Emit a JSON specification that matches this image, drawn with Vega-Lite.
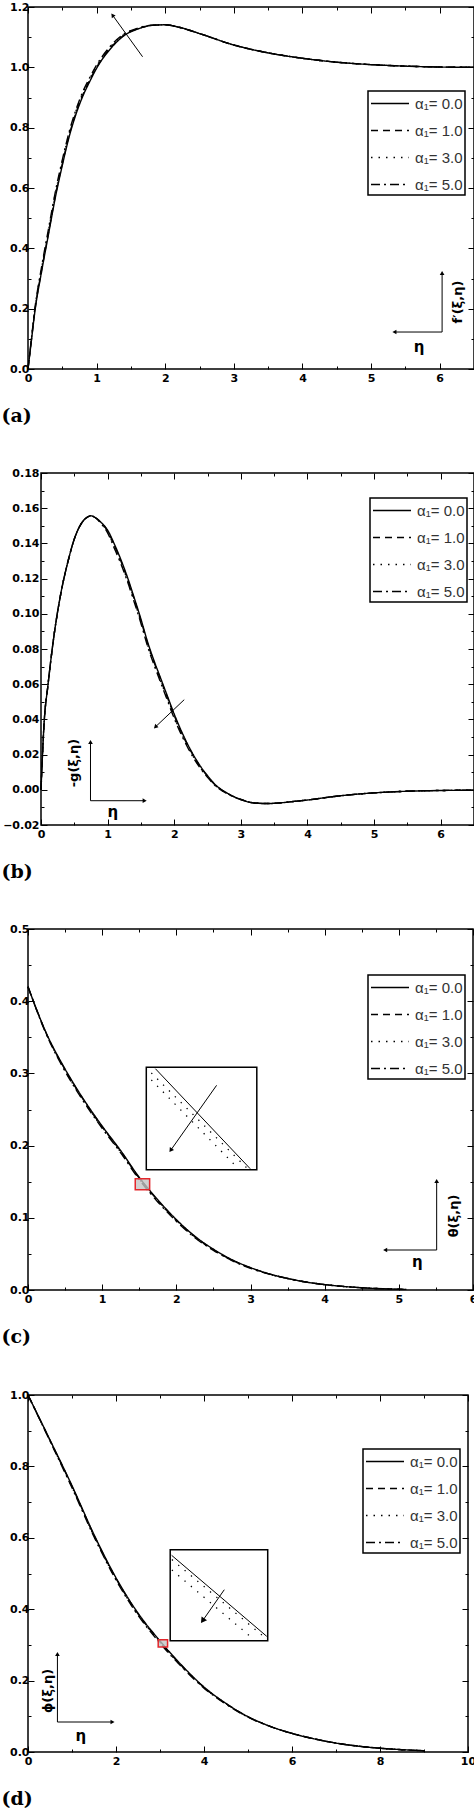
{
  "$schema": "https://vega.github.io/schema/vega-lite/v6.json",
  "padding": {"left": 0, "top": 0, "right": 0, "bottom": 0},
  "background": "white",
  "columns": 1,
  "align": {"row": "each", "column": "none"},
  "spacing": 41,
  "resolve": {"scale": {"strokeDash": "independent"}, "legend": {"strokeDash": "independent"}},
  "datasets": {
    "A": [
      {"eta": 0, "a0": 0, "a1": 0, "a3": 0, "a5": 0},
      {"eta": 0.05, "a0": 0.095, "a1": 0.097, "a3": 0.099, "a5": 0.101},
      {"eta": 0.1, "a0": 0.19, "a1": 0.193, "a3": 0.197, "a5": 0.2},
      {"eta": 0.2, "a0": 0.325, "a1": 0.33, "a3": 0.336, "a5": 0.341},
      {"eta": 0.3, "a0": 0.448, "a1": 0.453, "a3": 0.46, "a5": 0.466},
      {"eta": 0.4, "a0": 0.57, "a1": 0.576, "a3": 0.583, "a5": 0.589},
      {"eta": 0.5, "a0": 0.675, "a1": 0.68, "a3": 0.687, "a5": 0.693},
      {"eta": 0.6, "a0": 0.77, "a1": 0.775, "a3": 0.781, "a5": 0.786},
      {"eta": 0.7, "a0": 0.845, "a1": 0.85, "a3": 0.855, "a5": 0.86},
      {"eta": 0.8, "a0": 0.905, "a1": 0.91, "a3": 0.915, "a5": 0.92},
      {"eta": 0.9, "a0": 0.953, "a1": 0.958, "a3": 0.962, "a5": 0.966},
      {"eta": 1.0, "a0": 0.997, "a1": 1.0, "a3": 1.004, "a5": 1.008},
      {"eta": 1.2, "a0": 1.061, "a1": 1.064, "a3": 1.067, "a5": 1.07},
      {"eta": 1.4, "a0": 1.105, "a1": 1.107, "a3": 1.109, "a5": 1.111},
      {"eta": 1.6, "a0": 1.127, "a1": 1.128, "a3": 1.129, "a5": 1.13},
      {"eta": 1.8, "a0": 1.139, "a1": 1.139, "a3": 1.139, "a5": 1.14},
      {"eta": 2.0, "a0": 1.141, "a1": 1.141, "a3": 1.141, "a5": 1.141},
      {"eta": 2.2, "a0": 1.133, "a1": 1.133, "a3": 1.133, "a5": 1.133},
      {"eta": 2.5, "a0": 1.112, "a1": 1.112, "a3": 1.112, "a5": 1.112},
      {"eta": 3.0, "a0": 1.074, "a1": 1.074, "a3": 1.074, "a5": 1.074},
      {"eta": 3.5, "a0": 1.048, "a1": 1.048, "a3": 1.048, "a5": 1.048},
      {"eta": 4.0, "a0": 1.03, "a1": 1.03, "a3": 1.03, "a5": 1.03},
      {"eta": 4.5, "a0": 1.017, "a1": 1.017, "a3": 1.017, "a5": 1.017},
      {"eta": 5.0, "a0": 1.009, "a1": 1.009, "a3": 1.009, "a5": 1.009},
      {"eta": 5.5, "a0": 1.004, "a1": 1.004, "a3": 1.004, "a5": 1.004},
      {"eta": 6.0, "a0": 1.001, "a1": 1.001, "a3": 1.001, "a5": 1.001},
      {"eta": 6.5, "a0": 1.0, "a1": 1.0, "a3": 1.0, "a5": 1.0}
    ],
    "B": [
      {"eta": 0, "a0": 0, "a1": 0, "a3": 0, "a5": 0},
      {"eta": 0.05, "a0": 0.04, "a1": 0.04, "a3": 0.04, "a5": 0.04},
      {"eta": 0.1, "a0": 0.058, "a1": 0.058, "a3": 0.058, "a5": 0.058},
      {"eta": 0.2, "a0": 0.089, "a1": 0.089, "a3": 0.089, "a5": 0.089},
      {"eta": 0.3, "a0": 0.112, "a1": 0.112, "a3": 0.112, "a5": 0.112},
      {"eta": 0.4, "a0": 0.129, "a1": 0.129, "a3": 0.129, "a5": 0.129},
      {"eta": 0.5, "a0": 0.1425, "a1": 0.1425, "a3": 0.1425, "a5": 0.1425},
      {"eta": 0.6, "a0": 0.151, "a1": 0.151, "a3": 0.151, "a5": 0.151},
      {"eta": 0.7, "a0": 0.155, "a1": 0.155, "a3": 0.155, "a5": 0.155},
      {"eta": 0.75, "a0": 0.1557, "a1": 0.1557, "a3": 0.1557, "a5": 0.1557},
      {"eta": 0.8, "a0": 0.155, "a1": 0.155, "a3": 0.155, "a5": 0.155},
      {"eta": 0.9, "a0": 0.152, "a1": 0.1518, "a3": 0.1516, "a5": 0.1514},
      {"eta": 1.0, "a0": 0.1475, "a1": 0.147, "a3": 0.1465, "a5": 0.146},
      {"eta": 1.1, "a0": 0.1397, "a1": 0.1389, "a3": 0.1381, "a5": 0.1373},
      {"eta": 1.2, "a0": 0.1307, "a1": 0.1299, "a3": 0.1291, "a5": 0.1283},
      {"eta": 1.3, "a0": 0.1205, "a1": 0.1197, "a3": 0.1189, "a5": 0.1181},
      {"eta": 1.4, "a0": 0.109, "a1": 0.1082, "a3": 0.1074, "a5": 0.1066},
      {"eta": 1.5, "a0": 0.097, "a1": 0.0962, "a3": 0.0954, "a5": 0.0946},
      {"eta": 1.6, "a0": 0.084, "a1": 0.0832, "a3": 0.0824, "a5": 0.0816},
      {"eta": 1.7, "a0": 0.073, "a1": 0.0722, "a3": 0.0714, "a5": 0.0706},
      {"eta": 1.8, "a0": 0.063, "a1": 0.0622, "a3": 0.0614, "a5": 0.0606},
      {"eta": 1.9, "a0": 0.053, "a1": 0.0522, "a3": 0.0514, "a5": 0.0506},
      {"eta": 2.0, "a0": 0.043, "a1": 0.0422, "a3": 0.0414, "a5": 0.0406},
      {"eta": 2.1, "a0": 0.034, "a1": 0.0333, "a3": 0.0326, "a5": 0.0319},
      {"eta": 2.2, "a0": 0.026, "a1": 0.0254, "a3": 0.0248, "a5": 0.0242},
      {"eta": 2.3, "a0": 0.019, "a1": 0.0185, "a3": 0.018, "a5": 0.0175},
      {"eta": 2.4, "a0": 0.013, "a1": 0.0126, "a3": 0.0122, "a5": 0.0118},
      {"eta": 2.5, "a0": 0.008, "a1": 0.0077, "a3": 0.0074, "a5": 0.0071},
      {"eta": 2.6, "a0": 0.0035, "a1": 0.0033, "a3": 0.0031, "a5": 0.0029},
      {"eta": 2.8, "a0": -0.002, "a1": -0.0021, "a3": -0.0022, "a5": -0.0023},
      {"eta": 3.0, "a0": -0.0055, "a1": -0.0055, "a3": -0.0055, "a5": -0.0055},
      {"eta": 3.2, "a0": -0.0075, "a1": -0.0075, "a3": -0.0075, "a5": -0.0075},
      {"eta": 3.4, "a0": -0.0078, "a1": -0.0078, "a3": -0.0078, "a5": -0.0078},
      {"eta": 3.6, "a0": -0.0074, "a1": -0.0074, "a3": -0.0074, "a5": -0.0074},
      {"eta": 3.8, "a0": -0.0066, "a1": -0.0066, "a3": -0.0066, "a5": -0.0066},
      {"eta": 4.0, "a0": -0.0058, "a1": -0.0058, "a3": -0.0058, "a5": -0.0058},
      {"eta": 4.4, "a0": -0.0038, "a1": -0.0038, "a3": -0.0038, "a5": -0.0038},
      {"eta": 4.8, "a0": -0.0023, "a1": -0.0023, "a3": -0.0023, "a5": -0.0023},
      {"eta": 5.2, "a0": -0.0013, "a1": -0.0013, "a3": -0.0013, "a5": -0.0013},
      {"eta": 5.6, "a0": -0.0007, "a1": -0.0007, "a3": -0.0007, "a5": -0.0007},
      {"eta": 6.0, "a0": -0.0004, "a1": -0.0004, "a3": -0.0004, "a5": -0.0004},
      {"eta": 6.5, "a0": -0.0002, "a1": -0.0002, "a3": -0.0002, "a5": -0.0002}
    ],
    "C": [
      {"eta": 0, "a0": 0.42, "a1": 0.42, "a3": 0.42, "a5": 0.42},
      {"eta": 0.25, "a0": 0.355, "a1": 0.3545, "a3": 0.354, "a5": 0.3535},
      {"eta": 0.5, "a0": 0.306, "a1": 0.305, "a3": 0.304, "a5": 0.303},
      {"eta": 0.75, "a0": 0.264, "a1": 0.263, "a3": 0.262, "a5": 0.261},
      {"eta": 1.0, "a0": 0.227, "a1": 0.226, "a3": 0.225, "a5": 0.224},
      {"eta": 1.25, "a0": 0.193, "a1": 0.192, "a3": 0.191, "a5": 0.19},
      {"eta": 1.5, "a0": 0.156, "a1": 0.155, "a3": 0.154, "a5": 0.153},
      {"eta": 1.75, "a0": 0.125, "a1": 0.124, "a3": 0.123, "a5": 0.122},
      {"eta": 2.0, "a0": 0.0975, "a1": 0.0967, "a3": 0.0959, "a5": 0.0951},
      {"eta": 2.25, "a0": 0.0745, "a1": 0.0738, "a3": 0.0731, "a5": 0.0724},
      {"eta": 2.5, "a0": 0.0565, "a1": 0.056, "a3": 0.0555, "a5": 0.055},
      {"eta": 2.75, "a0": 0.042, "a1": 0.0416, "a3": 0.0412, "a5": 0.0408},
      {"eta": 3.0, "a0": 0.031, "a1": 0.0307, "a3": 0.0304, "a5": 0.0301},
      {"eta": 3.25, "a0": 0.0225, "a1": 0.0223, "a3": 0.0221, "a5": 0.0219},
      {"eta": 3.5, "a0": 0.016, "a1": 0.016, "a3": 0.016, "a5": 0.016},
      {"eta": 3.75, "a0": 0.011, "a1": 0.011, "a3": 0.011, "a5": 0.011},
      {"eta": 4.0, "a0": 0.0075, "a1": 0.0075, "a3": 0.0075, "a5": 0.0075},
      {"eta": 4.5, "a0": 0.0031, "a1": 0.0031, "a3": 0.0031, "a5": 0.0031},
      {"eta": 5.1, "a0": 0.0008, "a1": 0.0008, "a3": 0.0008, "a5": 0.0008}
    ],
    "D": [
      {"eta": 0, "a0": 1.0, "a1": 1.0, "a3": 1.0, "a5": 1.0},
      {"eta": 0.5, "a0": 0.874, "a1": 0.873, "a3": 0.872, "a5": 0.871},
      {"eta": 1.0, "a0": 0.746, "a1": 0.744, "a3": 0.742, "a5": 0.74},
      {"eta": 1.5, "a0": 0.609, "a1": 0.607, "a3": 0.605, "a5": 0.603},
      {"eta": 2.0, "a0": 0.488, "a1": 0.486, "a3": 0.484, "a5": 0.482},
      {"eta": 2.5, "a0": 0.389, "a1": 0.387, "a3": 0.385, "a5": 0.383},
      {"eta": 3.0, "a0": 0.311, "a1": 0.309, "a3": 0.307, "a5": 0.305},
      {"eta": 3.5, "a0": 0.242, "a1": 0.2405, "a3": 0.239, "a5": 0.2375},
      {"eta": 4.0, "a0": 0.182, "a1": 0.181, "a3": 0.18, "a5": 0.179},
      {"eta": 4.5, "a0": 0.136, "a1": 0.1353, "a3": 0.1346, "a5": 0.1339},
      {"eta": 5.0, "a0": 0.099, "a1": 0.0985, "a3": 0.098, "a5": 0.0975},
      {"eta": 5.5, "a0": 0.072, "a1": 0.072, "a3": 0.072, "a5": 0.072},
      {"eta": 6.0, "a0": 0.052, "a1": 0.052, "a3": 0.052, "a5": 0.052},
      {"eta": 6.5, "a0": 0.037, "a1": 0.037, "a3": 0.037, "a5": 0.037},
      {"eta": 7.0, "a0": 0.025, "a1": 0.025, "a3": 0.025, "a5": 0.025},
      {"eta": 7.5, "a0": 0.0165, "a1": 0.0165, "a3": 0.0165, "a5": 0.0165},
      {"eta": 8.0, "a0": 0.0105, "a1": 0.0105, "a3": 0.0105, "a5": 0.0105},
      {"eta": 8.5, "a0": 0.0065, "a1": 0.0065, "a3": 0.0065, "a5": 0.0065},
      {"eta": 9.0, "a0": 0.0036, "a1": 0.0036, "a3": 0.0036, "a5": 0.0036}
    ]
  },
  "concat": [
    {
      "width": 446, "height": 362,
      "resolve": {"axis": {"x": "independent", "y": "independent"}},
      "layer": [
        {
          "data": {"name": "A"},
          "transform": [{"fold": ["a0", "a1", "a3", "a5"], "as": ["alpha", "val"]}],
          "mark": {"type": "line", "color": "black", "strokeWidth": 1.4, "interpolate": "monotone"},
          "encoding": {
            "x": {"field": "eta", "type": "quantitative", "scale": {"domain": [0, 6.5], "nice": false},
              "axis": {"orient": "bottom", "values": [0, 1, 2, 3, 4, 5, 6], "format": "d", "tickSize": -6, "labelPadding": 9, "title": "(a)", "titleX": -27, "titleY": 46}},
            "y": {"field": "val", "type": "quantitative", "scale": {"domain": [0, 1.2], "nice": false},
              "axis": {"orient": "left", "values": [0, 0.2, 0.4, 0.6, 0.8, 1.0, 1.2], "format": ".1f", "tickSize": -6, "labelPadding": 5, "minExtent": 27, "maxExtent": 27, "title": null}},
            "strokeDash": {"field": "alpha", "type": "nominal",
              "scale": {"domain": ["a0", "a1", "a3", "a5"], "range": [[1, 0], [7, 5], [1.5, 6], [9, 4, 2, 4]]},
              "legend": {"title": null, "orient": "none", "legendX": 340, "legendY": 84,
                "labelExpr": "datum.label == 'a0' ? 'α₁= 0.0' : datum.label == 'a1' ? 'α₁= 1.0' : datum.label == 'a3' ? 'α₁= 3.0' : 'α₁= 5.0'",
                "symbolType": "M-1,0H3", "symbolSize": 361, "symbolStrokeWidth": 1.5, "symbolStrokeColor": "black", "symbolFillColor": "transparent",
                "labelOffset": 24, "labelFont": "Liberation Sans", "labelFontSize": 15, "labelColor": "#333",
                "strokeColor": "black", "fillColor": "white", "padding": 2, "rowPadding": 8}}
          }
        },
        {
          "data": {"name": "A"}, "mark": {"type": "line", "strokeOpacity": 0},
          "encoding": {
            "x": {"field": "eta", "type": "quantitative", "axis": {"orient": "top", "values": [0, 1, 2, 3, 4, 5, 6], "tickSize": -6, "labels": false, "title": null}},
            "y": {"field": "a0", "type": "quantitative", "axis": {"orient": "right", "values": [0, 0.2, 0.4, 0.6, 0.8, 1.0, 1.2], "tickSize": -6, "labels": false, "title": null, "minExtent": 0, "maxExtent": 0}}
          }
        },
        {
          "data": {"name": "A"}, "mark": {"type": "line", "strokeOpacity": 0},
          "encoding": {
            "x": {"field": "eta", "type": "quantitative", "axis": {"orient": "bottom", "values": [0.5, 1.5, 2.5, 3.5, 4.5, 5.5, 6.5], "tickSize": -3, "labels": false, "title": null}},
            "y": {"field": "a0", "type": "quantitative", "axis": {"orient": "left", "values": [0.1, 0.3, 0.5, 0.7, 0.9, 1.1], "tickSize": -3, "labels": false, "title": null, "minExtent": 0, "maxExtent": 0}}
          }
        },
        {
          "data": {"name": "A"}, "mark": {"type": "line", "strokeOpacity": 0},
          "encoding": {
            "x": {"field": "eta", "type": "quantitative", "axis": {"orient": "top", "values": [0.5, 1.5, 2.5, 3.5, 4.5, 5.5, 6.5], "tickSize": -3, "labels": false, "title": null}},
            "y": {"field": "a0", "type": "quantitative", "axis": {"orient": "right", "values": [0.1, 0.3, 0.5, 0.7, 0.9, 1.1], "tickSize": -3, "labels": false, "title": null, "minExtent": 0, "maxExtent": 0}}
          }
        },
        {
          "data": {"values": [
            {"eta": 1.232, "val": 1.173, "seg": "s1", "k": 0}, {"eta": 1.67, "val": 1.035, "seg": "s1", "k": 1},
            {"eta": 6.035, "val": 0.318, "seg": "s2", "k": 0}, {"eta": 6.035, "val": 0.1226, "seg": "s2", "k": 1}, {"eta": 5.34, "val": 0.1226, "seg": "s2", "k": 2}
          ]},
          "mark": {"type": "line", "color": "black", "strokeWidth": 1},
          "encoding": {
            "x": {"field": "eta", "type": "quantitative", "axis": null},
            "y": {"field": "val", "type": "quantitative", "axis": null},
            "detail": {"field": "seg"}, "order": {"field": "k"}
          }
        },
        {
          "data": {"values": [{"eta": 6.035, "val": 0.318}]},
          "mark": {"type": "point", "shape": "triangle-up", "filled": true, "color": "black", "size": 22, "opacity": 1, "angle": 0},
          "encoding": {"x": {"field": "eta", "type": "quantitative", "axis": null}, "y": {"field": "val", "type": "quantitative", "axis": null}}
        },
        {
          "data": {"values": [{"eta": 5.34, "val": 0.1226}]},
          "mark": {"type": "point", "shape": "triangle-up", "filled": true, "color": "black", "size": 22, "opacity": 1, "angle": 270},
          "encoding": {"x": {"field": "eta", "type": "quantitative", "axis": null}, "y": {"field": "val", "type": "quantitative", "axis": null}}
        },
        {
          "data": {"values": [{"eta": 1.232, "val": 1.173}]},
          "mark": {"type": "point", "shape": "triangle-up", "filled": true, "color": "black", "size": 22, "opacity": 1, "angle": 324},
          "encoding": {"x": {"field": "eta", "type": "quantitative", "axis": null}, "y": {"field": "val", "type": "quantitative", "axis": null}}
        },
        {
          "data": {"values": [{"eta": 5.7, "val": 0.073, "t": "η"}]},
          "mark": {"type": "text", "fontSize": 15, "font": "DejaVu Sans", "fontWeight": "bold", "color": "black"},
          "encoding": {"x": {"field": "eta", "type": "quantitative", "axis": null}, "y": {"field": "val", "type": "quantitative", "axis": null}, "text": {"field": "t"}}
        },
        {
          "data": {"values": [{"eta": 6.27, "val": 0.222, "t": "f′(ξ,η)"}]},
          "mark": {"type": "text", "fontSize": 13, "font": "DejaVu Sans", "fontWeight": "bold", "color": "black", "angle": 270},
          "encoding": {"x": {"field": "eta", "type": "quantitative", "axis": null}, "y": {"field": "val", "type": "quantitative", "axis": null}, "text": {"field": "t"}}
        }
      ]
    },
    {
      "width": 446, "height": 352,
      "view": {"stroke": null},
      "resolve": {"axis": {"x": "independent", "y": "independent"}},
      "layer": [
        {
          "data": {"name": "B"},
          "transform": [{"fold": ["a0", "a1", "a3", "a5"], "as": ["alpha", "val"]}],
          "mark": {"type": "line", "color": "black", "strokeWidth": 1.4, "interpolate": "monotone"},
          "encoding": {
            "x": {"field": "eta", "type": "quantitative", "scale": {"domain": [-0.1952, 6.5], "nice": false, "zero": false},
              "axis": {"orient": "bottom", "values": [0, 1, 2, 3, 4, 5, 6], "format": "d", "tickSize": -6, "labelPadding": 9, "title": "(b)", "titleX": -27, "titleY": 46}},
            "y": {"field": "val", "type": "quantitative", "scale": {"domain": [-0.02, 0.18], "nice": false, "zero": false},
              "axis": {"orient": "left", "offset": -13, "values": [-0.02, 0, 0.02, 0.04, 0.06, 0.08, 0.1, 0.12, 0.14, 0.16, 0.18], "format": ".2f", "tickSize": -6, "labelPadding": 8, "minExtent": 0, "maxExtent": 200, "title": null}},
            "strokeDash": {"field": "alpha", "type": "nominal",
              "scale": {"domain": ["a0", "a1", "a3", "a5"], "range": [[1, 0], [7, 5], [1.5, 6], [9, 4, 2, 4]]},
              "legend": {"title": null, "orient": "none", "legendX": 342, "legendY": 25,
                "labelExpr": "datum.label == 'a0' ? 'α₁= 0.0' : datum.label == 'a1' ? 'α₁= 1.0' : datum.label == 'a3' ? 'α₁= 3.0' : 'α₁= 5.0'",
                "symbolType": "M-1,0H3", "symbolSize": 361, "symbolStrokeWidth": 1.5, "symbolStrokeColor": "black", "symbolFillColor": "transparent",
                "labelOffset": 24, "labelFont": "Liberation Sans", "labelFontSize": 15, "labelColor": "#333",
                "strokeColor": "black", "fillColor": "white", "padding": 2, "rowPadding": 8}}
          }
        },
        {
          "data": {"values": [{}]},
          "mark": {"type": "rect", "filled": false, "stroke": "black", "strokeWidth": 1.5},
          "encoding": {
            "x": {"datum": 0, "type": "quantitative", "axis": null}, "x2": {"datum": 6.5},
            "y": {"datum": -0.02, "type": "quantitative", "axis": null}, "y2": {"datum": 0.18}
          }
        },
        {
          "data": {"name": "B"}, "mark": {"type": "line", "strokeOpacity": 0},
          "encoding": {
            "x": {"field": "eta", "type": "quantitative", "axis": {"orient": "top", "values": [0, 1, 2, 3, 4, 5, 6], "tickSize": -6, "labels": false, "title": null}},
            "y": {"field": "a0", "type": "quantitative", "axis": {"orient": "right", "values": [-0.02, 0, 0.02, 0.04, 0.06, 0.08, 0.1, 0.12, 0.14, 0.16, 0.18], "tickSize": -6, "labels": false, "title": null, "minExtent": 0, "maxExtent": 0}}
          }
        },
        {
          "data": {"name": "B"}, "mark": {"type": "line", "strokeOpacity": 0},
          "encoding": {
            "x": {"field": "eta", "type": "quantitative", "axis": {"orient": "bottom", "values": [0.5, 1.5, 2.5, 3.5, 4.5, 5.5, 6.5], "tickSize": -3, "labels": false, "title": null}},
            "y": {"field": "a0", "type": "quantitative", "axis": {"orient": "left", "offset": -13, "values": [-0.01, 0.01, 0.03, 0.05, 0.07, 0.09, 0.11, 0.13, 0.15, 0.17], "tickSize": -3, "labels": false, "title": null, "minExtent": 0, "maxExtent": 0}}
          }
        },
        {
          "data": {"name": "B"}, "mark": {"type": "line", "strokeOpacity": 0},
          "encoding": {
            "x": {"field": "eta", "type": "quantitative", "axis": {"orient": "top", "values": [0.5, 1.5, 2.5, 3.5, 4.5, 5.5, 6.5], "tickSize": -3, "labels": false, "title": null}},
            "y": {"field": "a0", "type": "quantitative", "axis": {"orient": "right", "values": [-0.01, 0.01, 0.03, 0.05, 0.07, 0.09, 0.11, 0.13, 0.15, 0.17], "tickSize": -3, "labels": false, "title": null, "minExtent": 0, "maxExtent": 0}}
          }
        },
        {
          "data": {"values": [
            {"eta": 2.15, "val": 0.0512, "seg": "s1", "k": 0}, {"eta": 1.717, "val": 0.0357, "seg": "s1", "k": 1},
            {"eta": 0.743, "val": 0.0272, "seg": "s2", "k": 0}, {"eta": 0.743, "val": -0.0062, "seg": "s2", "k": 1}, {"eta": 1.556, "val": -0.0062, "seg": "s2", "k": 2}
          ]},
          "mark": {"type": "line", "color": "black", "strokeWidth": 1},
          "encoding": {
            "x": {"field": "eta", "type": "quantitative", "axis": null},
            "y": {"field": "val", "type": "quantitative", "axis": null},
            "detail": {"field": "seg"}, "order": {"field": "k"}
          }
        },
        {
          "data": {"values": [{"eta": 0.743, "val": 0.0272}]},
          "mark": {"type": "point", "shape": "triangle-up", "filled": true, "color": "black", "size": 22, "opacity": 1, "angle": 0},
          "encoding": {"x": {"field": "eta", "type": "quantitative", "axis": null}, "y": {"field": "val", "type": "quantitative", "axis": null}}
        },
        {
          "data": {"values": [{"eta": 1.556, "val": -0.0062}]},
          "mark": {"type": "point", "shape": "triangle-up", "filled": true, "color": "black", "size": 22, "opacity": 1, "angle": 90},
          "encoding": {"x": {"field": "eta", "type": "quantitative", "axis": null}, "y": {"field": "val", "type": "quantitative", "axis": null}}
        },
        {
          "data": {"values": [{"eta": 1.717, "val": 0.0357}]},
          "mark": {"type": "point", "shape": "triangle-up", "filled": true, "color": "black", "size": 22, "opacity": 1, "angle": 226},
          "encoding": {"x": {"field": "eta", "type": "quantitative", "axis": null}, "y": {"field": "val", "type": "quantitative", "axis": null}}
        },
        {
          "data": {"values": [{"eta": 1.08, "val": -0.0126, "t": "η"}]},
          "mark": {"type": "text", "fontSize": 15, "font": "DejaVu Sans", "fontWeight": "bold", "color": "black"},
          "encoding": {"x": {"field": "eta", "type": "quantitative", "axis": null}, "y": {"field": "val", "type": "quantitative", "axis": null}, "text": {"field": "t"}}
        },
        {
          "data": {"values": [{"eta": 0.502, "val": 0.0152, "t": "-g(ξ,η)"}]},
          "mark": {"type": "text", "fontSize": 13, "font": "DejaVu Sans", "fontWeight": "bold", "color": "black", "angle": 270},
          "encoding": {"x": {"field": "eta", "type": "quantitative", "axis": null}, "y": {"field": "val", "type": "quantitative", "axis": null}, "text": {"field": "t"}}
        }
      ]
    },
    {
      "width": 445, "height": 361,
      "resolve": {"axis": {"x": "independent", "y": "independent"}},
      "layer": [
        {
          "data": {"name": "C"},
          "transform": [{"fold": ["a0", "a1", "a3", "a5"], "as": ["alpha", "val"]}],
          "mark": {"type": "line", "color": "black", "strokeWidth": 1.4, "interpolate": "monotone"},
          "encoding": {
            "x": {"field": "eta", "type": "quantitative", "scale": {"domain": [0, 6], "nice": false},
              "axis": {"orient": "bottom", "values": [0, 1, 2, 3, 4, 5, 6], "format": "d", "tickSize": -6, "labelPadding": 9, "title": "(c)", "titleX": -27, "titleY": 46}},
            "y": {"field": "val", "type": "quantitative", "scale": {"domain": [0, 0.5], "nice": false},
              "axis": {"orient": "left", "values": [0, 0.1, 0.2, 0.3, 0.4, 0.5], "format": ".1f", "tickSize": -6, "labelPadding": 5, "minExtent": 27, "maxExtent": 27, "title": null}},
            "strokeDash": {"field": "alpha", "type": "nominal",
              "scale": {"domain": ["a0", "a1", "a3", "a5"], "range": [[1, 0], [7, 5], [1.5, 6], [9, 4, 2, 4]]},
              "legend": {"title": null, "orient": "none", "legendX": 340, "legendY": 46,
                "labelExpr": "datum.label == 'a0' ? 'α₁= 0.0' : datum.label == 'a1' ? 'α₁= 1.0' : datum.label == 'a3' ? 'α₁= 3.0' : 'α₁= 5.0'",
                "symbolType": "M-1,0H3", "symbolSize": 361, "symbolStrokeWidth": 1.5, "symbolStrokeColor": "black", "symbolFillColor": "transparent",
                "labelOffset": 24, "labelFont": "Liberation Sans", "labelFontSize": 15, "labelColor": "#333",
                "strokeColor": "black", "fillColor": "white", "padding": 2, "rowPadding": 8}}
          }
        },
        {
          "data": {"name": "C"}, "mark": {"type": "line", "strokeOpacity": 0},
          "encoding": {
            "x": {"field": "eta", "type": "quantitative", "axis": {"orient": "top", "values": [0, 1, 2, 3, 4, 5, 6], "tickSize": -6, "labels": false, "title": null}},
            "y": {"field": "a0", "type": "quantitative", "axis": {"orient": "right", "values": [0, 0.1, 0.2, 0.3, 0.4, 0.5], "tickSize": -6, "labels": false, "title": null, "minExtent": 0, "maxExtent": 0}}
          }
        },
        {
          "data": {"name": "C"}, "mark": {"type": "line", "strokeOpacity": 0},
          "encoding": {
            "x": {"field": "eta", "type": "quantitative", "axis": {"orient": "bottom", "values": [0.5, 1.5, 2.5, 3.5, 4.5, 5.5], "tickSize": -3, "labels": false, "title": null}},
            "y": {"field": "a0", "type": "quantitative", "axis": {"orient": "left", "values": [0.05, 0.15, 0.25, 0.35, 0.45], "tickSize": -3, "labels": false, "title": null, "minExtent": 0, "maxExtent": 0}}
          }
        },
        {
          "data": {"name": "C"}, "mark": {"type": "line", "strokeOpacity": 0},
          "encoding": {
            "x": {"field": "eta", "type": "quantitative", "axis": {"orient": "top", "values": [0.5, 1.5, 2.5, 3.5, 4.5, 5.5], "tickSize": -3, "labels": false, "title": null}},
            "y": {"field": "a0", "type": "quantitative", "axis": {"orient": "right", "values": [0.05, 0.15, 0.25, 0.35, 0.45], "tickSize": -3, "labels": false, "title": null, "minExtent": 0, "maxExtent": 0}}
          }
        },
        {
          "data": {"values": [{"eta": 1.595, "eta2": 3.085, "val": 0.3085, "val2": 0.1666}]},
          "mark": {"type": "rect", "fill": "white", "stroke": "black", "strokeWidth": 1.5},
          "encoding": {"x": {"field": "eta", "type": "quantitative", "axis": null}, "x2": {"field": "eta2"}, "y": {"field": "val", "type": "quantitative", "axis": null}, "y2": {"field": "val2"}}
        },
        {
          "data": {"values": [{"eta": 1.446, "eta2": 1.64, "val": 0.154, "val2": 0.139}]},
          "mark": {"type": "rect", "fill": "#c4c4c4", "fillOpacity": 0.8, "stroke": "#e3262b", "strokeWidth": 1.5},
          "encoding": {"x": {"field": "eta", "type": "quantitative", "axis": null}, "x2": {"field": "eta2"}, "y": {"field": "val", "type": "quantitative", "axis": null}, "y2": {"field": "val2"}}
        },
        {
          "data": {"values": [
            {"eta": 1.663, "val": 0.3006, "seg": "d1", "k": 0}, {"eta": 2.95, "val": 0.169, "seg": "d1", "k": 1},
            {"eta": 1.663, "val": 0.2909, "seg": "d2", "k": 0}, {"eta": 2.828, "val": 0.169, "seg": "d2", "k": 1}
          ]},
          "mark": {"type": "line", "color": "black", "strokeWidth": 1.3, "strokeDash": [1.3, 7]},
          "encoding": {
            "x": {"field": "eta", "type": "quantitative", "axis": null},
            "y": {"field": "val", "type": "quantitative", "axis": null},
            "detail": {"field": "seg"}, "order": {"field": "k"}
          }
        },
        {
          "data": {"values": [
            {"eta": 5.51, "val": 0.151, "seg": "s1", "k": 0}, {"eta": 5.51, "val": 0.0554, "seg": "s1", "k": 1}, {"eta": 4.816, "val": 0.0554, "seg": "s1", "k": 2},
            {"eta": 1.718, "val": 0.3065, "seg": "s2", "k": 0}, {"eta": 2.996, "val": 0.168, "seg": "s2", "k": 1},
            {"eta": 2.543, "val": 0.2835, "seg": "s3", "k": 0}, {"eta": 1.924, "val": 0.1935, "seg": "s3", "k": 1}
          ]},
          "mark": {"type": "line", "color": "black", "strokeWidth": 1},
          "encoding": {
            "x": {"field": "eta", "type": "quantitative", "axis": null},
            "y": {"field": "val", "type": "quantitative", "axis": null},
            "detail": {"field": "seg"}, "order": {"field": "k"}
          }
        },
        {
          "data": {"values": [{"eta": 5.51, "val": 0.151}]},
          "mark": {"type": "point", "shape": "triangle-up", "filled": true, "color": "black", "size": 22, "opacity": 1, "angle": 0},
          "encoding": {"x": {"field": "eta", "type": "quantitative", "axis": null}, "y": {"field": "val", "type": "quantitative", "axis": null}}
        },
        {
          "data": {"values": [{"eta": 4.816, "val": 0.0554}]},
          "mark": {"type": "point", "shape": "triangle-up", "filled": true, "color": "black", "size": 22, "opacity": 1, "angle": 270},
          "encoding": {"x": {"field": "eta", "type": "quantitative", "axis": null}, "y": {"field": "val", "type": "quantitative", "axis": null}}
        },
        {
          "data": {"values": [{"eta": 1.924, "val": 0.1935}]},
          "mark": {"type": "point", "shape": "triangle-up", "filled": true, "color": "black", "size": 26, "opacity": 1, "angle": 215},
          "encoding": {"x": {"field": "eta", "type": "quantitative", "axis": null}, "y": {"field": "val", "type": "quantitative", "axis": null}}
        },
        {
          "data": {"values": [{"eta": 5.25, "val": 0.0388, "t": "η"}]},
          "mark": {"type": "text", "fontSize": 15, "font": "DejaVu Sans", "fontWeight": "bold", "color": "black"},
          "encoding": {"x": {"field": "eta", "type": "quantitative", "axis": null}, "y": {"field": "val", "type": "quantitative", "axis": null}, "text": {"field": "t"}}
        },
        {
          "data": {"values": [{"eta": 5.75, "val": 0.1025, "t": "θ(ξ,η)"}]},
          "mark": {"type": "text", "fontSize": 13, "font": "DejaVu Sans", "fontWeight": "bold", "color": "black", "angle": 270},
          "encoding": {"x": {"field": "eta", "type": "quantitative", "axis": null}, "y": {"field": "val", "type": "quantitative", "axis": null}, "text": {"field": "t"}}
        }
      ]
    },
    {
      "width": 440, "height": 357,
      "resolve": {"axis": {"x": "independent", "y": "independent"}},
      "layer": [
        {
          "data": {"name": "D"},
          "transform": [{"fold": ["a0", "a1", "a3", "a5"], "as": ["alpha", "val"]}],
          "mark": {"type": "line", "color": "black", "strokeWidth": 1.4, "interpolate": "monotone"},
          "encoding": {
            "x": {"field": "eta", "type": "quantitative", "scale": {"domain": [0, 10], "nice": false},
              "axis": {"orient": "bottom", "values": [0, 2, 4, 6, 8, 10], "format": "d", "tickSize": -6, "labelPadding": 9, "title": "(d)", "titleX": -27, "titleY": 46}},
            "y": {"field": "val", "type": "quantitative", "scale": {"domain": [0, 1], "nice": false},
              "axis": {"orient": "left", "values": [0, 0.2, 0.4, 0.6, 0.8, 1.0], "format": ".1f", "tickSize": -6, "labelPadding": 5, "minExtent": 27, "maxExtent": 27, "title": null}},
            "strokeDash": {"field": "alpha", "type": "nominal",
              "scale": {"domain": ["a0", "a1", "a3", "a5"], "range": [[1, 0], [7, 5], [1.5, 6], [9, 4, 2, 4]]},
              "legend": {"title": null, "orient": "none", "legendX": 335, "legendY": 54,
                "labelExpr": "datum.label == 'a0' ? 'α₁= 0.0' : datum.label == 'a1' ? 'α₁= 1.0' : datum.label == 'a3' ? 'α₁= 3.0' : 'α₁= 5.0'",
                "symbolType": "M-1,0H3", "symbolSize": 361, "symbolStrokeWidth": 1.5, "symbolStrokeColor": "black", "symbolFillColor": "transparent",
                "labelOffset": 24, "labelFont": "Liberation Sans", "labelFontSize": 15, "labelColor": "#333",
                "strokeColor": "black", "fillColor": "white", "padding": 2, "rowPadding": 8}}
          }
        },
        {
          "data": {"name": "D"}, "mark": {"type": "line", "strokeOpacity": 0},
          "encoding": {
            "x": {"field": "eta", "type": "quantitative", "axis": {"orient": "top", "values": [0, 2, 4, 6, 8, 10], "tickSize": -6, "labels": false, "title": null}},
            "y": {"field": "a0", "type": "quantitative", "axis": {"orient": "right", "values": [0, 0.2, 0.4, 0.6, 0.8, 1.0], "tickSize": -6, "labels": false, "title": null, "minExtent": 0, "maxExtent": 0}}
          }
        },
        {
          "data": {"name": "D"}, "mark": {"type": "line", "strokeOpacity": 0},
          "encoding": {
            "x": {"field": "eta", "type": "quantitative", "axis": {"orient": "bottom", "values": [1, 3, 5, 7, 9], "tickSize": -3, "labels": false, "title": null}},
            "y": {"field": "a0", "type": "quantitative", "axis": {"orient": "left", "values": [0.1, 0.3, 0.5, 0.7, 0.9], "tickSize": -3, "labels": false, "title": null, "minExtent": 0, "maxExtent": 0}}
          }
        },
        {
          "data": {"name": "D"}, "mark": {"type": "line", "strokeOpacity": 0},
          "encoding": {
            "x": {"field": "eta", "type": "quantitative", "axis": {"orient": "top", "values": [1, 3, 5, 7, 9], "tickSize": -3, "labels": false, "title": null}},
            "y": {"field": "a0", "type": "quantitative", "axis": {"orient": "right", "values": [0.1, 0.3, 0.5, 0.7, 0.9], "tickSize": -3, "labels": false, "title": null, "minExtent": 0, "maxExtent": 0}}
          }
        },
        {
          "data": {"values": [{"eta": 3.232, "eta2": 5.448, "val": 0.5667, "val2": 0.3118}]},
          "mark": {"type": "rect", "fill": "white", "stroke": "black", "strokeWidth": 1.5},
          "encoding": {"x": {"field": "eta", "type": "quantitative", "axis": null}, "x2": {"field": "eta2"}, "y": {"field": "val", "type": "quantitative", "axis": null}, "y2": {"field": "val2"}}
        },
        {
          "data": {"values": [{"eta": 2.959, "eta2": 3.172, "val": 0.3146, "val2": 0.294}]},
          "mark": {"type": "rect", "fill": "#c4c4c4", "fillOpacity": 0.8, "stroke": "#e3262b", "strokeWidth": 1.5},
          "encoding": {"x": {"field": "eta", "type": "quantitative", "axis": null}, "x2": {"field": "eta2"}, "y": {"field": "val", "type": "quantitative", "axis": null}, "y2": {"field": "val2"}}
        },
        {
          "data": {"values": [
            {"eta": 3.27, "val": 0.539, "seg": "d1", "k": 0}, {"eta": 5.34, "val": 0.325, "seg": "d1", "k": 1},
            {"eta": 3.27, "val": 0.5098, "seg": "d2", "k": 0}, {"eta": 5.068, "val": 0.322, "seg": "d2", "k": 1}
          ]},
          "mark": {"type": "line", "color": "black", "strokeWidth": 1.3, "strokeDash": [1.3, 7]},
          "encoding": {
            "x": {"field": "eta", "type": "quantitative", "axis": null},
            "y": {"field": "val", "type": "quantitative", "axis": null},
            "detail": {"field": "seg"}, "order": {"field": "k"}
          }
        },
        {
          "data": {"values": [
            {"eta": 0.669, "val": 0.2745, "seg": "s1", "k": 0}, {"eta": 0.669, "val": 0.084, "seg": "s1", "k": 1}, {"eta": 1.921, "val": 0.084, "seg": "s1", "k": 2},
            {"eta": 3.264, "val": 0.551, "seg": "s2", "k": 0}, {"eta": 5.426, "val": 0.324, "seg": "s2", "k": 1},
            {"eta": 4.461, "val": 0.4546, "seg": "s3", "k": 0}, {"eta": 3.969, "val": 0.3678, "seg": "s3", "k": 1}
          ]},
          "mark": {"type": "line", "color": "black", "strokeWidth": 1},
          "encoding": {
            "x": {"field": "eta", "type": "quantitative", "axis": null},
            "y": {"field": "val", "type": "quantitative", "axis": null},
            "detail": {"field": "seg"}, "order": {"field": "k"}
          }
        },
        {
          "data": {"values": [{"eta": 0.669, "val": 0.2745}]},
          "mark": {"type": "point", "shape": "triangle-up", "filled": true, "color": "black", "size": 22, "opacity": 1, "angle": 0},
          "encoding": {"x": {"field": "eta", "type": "quantitative", "axis": null}, "y": {"field": "val", "type": "quantitative", "axis": null}}
        },
        {
          "data": {"values": [{"eta": 1.921, "val": 0.084}]},
          "mark": {"type": "point", "shape": "triangle-up", "filled": true, "color": "black", "size": 22, "opacity": 1, "angle": 90},
          "encoding": {"x": {"field": "eta", "type": "quantitative", "axis": null}, "y": {"field": "val", "type": "quantitative", "axis": null}}
        },
        {
          "data": {"values": [{"eta": 3.969, "val": 0.3678}]},
          "mark": {"type": "point", "shape": "triangle-up", "filled": true, "color": "black", "size": 45, "opacity": 1, "angle": 215},
          "encoding": {"x": {"field": "eta", "type": "quantitative", "axis": null}, "y": {"field": "val", "type": "quantitative", "axis": null}}
        },
        {
          "data": {"values": [{"eta": 1.2, "val": 0.0457, "t": "η"}]},
          "mark": {"type": "text", "fontSize": 15, "font": "DejaVu Sans", "fontWeight": "bold", "color": "black"},
          "encoding": {"x": {"field": "eta", "type": "quantitative", "axis": null}, "y": {"field": "val", "type": "quantitative", "axis": null}, "text": {"field": "t"}}
        },
        {
          "data": {"values": [{"eta": 0.45, "val": 0.171, "t": "ϕ(ξ,η)"}]},
          "mark": {"type": "text", "fontSize": 13, "font": "DejaVu Sans", "fontWeight": "bold", "color": "black", "angle": 270},
          "encoding": {"x": {"field": "eta", "type": "quantitative", "axis": null}, "y": {"field": "val", "type": "quantitative", "axis": null}, "text": {"field": "t"}}
        }
      ]
    }
  ],
  "config": {
    "view": {"stroke": "black", "strokeWidth": 1.5},
    "axis": {"grid": false, "domain": false, "labelFont": "DejaVu Sans", "labelFontWeight": "bold", "labelFontSize": 11, "labelColor": "black",
      "tickColor": "black", "tickWidth": 1, "labelOverlap": false, "labelFlush": false,
      "titleFont": "DejaVu Serif", "titleFontWeight": "bold", "titleFontSize": 19, "titleColor": "black",
      "titleAnchor": "start", "titleAlign": "left", "titleBaseline": "middle", "titleAngle": 0},
    "legend": {"strokeWidth": 1.5}
  }
}
